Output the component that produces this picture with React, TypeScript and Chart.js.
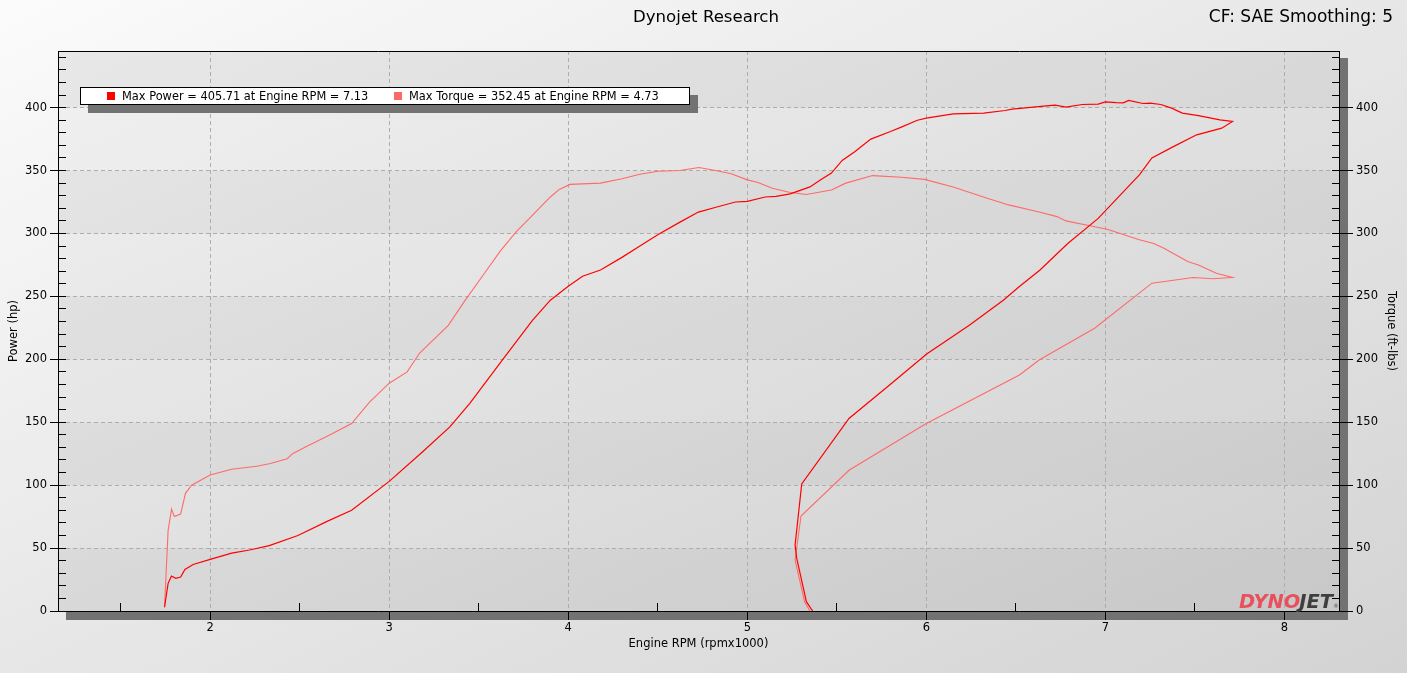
import React, { useEffect, useRef } from 'react';
import { Chart, registerables } from 'chart.js';

Chart.register(...registerables);

// ---------- text ----------
const TITLE = 'Dynojet Research';
const SUBTITLE = 'CF: SAE Smoothing: 5';
const X_TITLE = 'Engine RPM (rpmx1000)';
const Y_TITLE = 'Power (hp)';
const Y2_TITLE = 'Torque (ft-lbs)';
const LEGEND_LABELS = [
  'Max Power = 405.71 at Engine RPM = 7.13',
  'Max Torque = 352.45 at Engine RPM = 4.73',
];
const LOGO_PARTS = ['DYNO', 'JET'];

// ---------- axes ----------
const X_MIN = 1.15;
const X_MAX = 8.305;
const Y_MIN = 0;
const Y_MAX = 445;
const X_TICKS = [2, 3, 4, 5, 6, 7, 8];
const X_MINOR = [1.5, 2.5, 3.5, 4.5, 5.5, 6.5, 7.5];
const Y_TICKS = [0, 50, 100, 150, 200, 250, 300, 350, 400];
const Y_MINOR = [0, 10, 20, 30, 40, 50, 60, 70, 80, 90, 100, 110, 120, 130, 140, 150, 160, 170, 180, 190, 200, 210, 220, 230, 240, 250, 260, 270, 280, 290, 300, 310, 320, 330, 340, 350, 360, 370, 380, 390, 400, 410, 420, 430, 440];

// ---------- data ----------
const POWER_RPM = [1.745, 1.765, 1.784, 1.808, 1.835, 1.859, 1.905, 2.0, 2.12, 2.22, 2.33, 2.49, 2.65, 2.79, 3.0, 3.19, 3.34, 3.45, 3.64, 3.8, 3.9, 4.0, 4.08, 4.18, 4.3, 4.4, 4.5, 4.624, 4.727, 4.83, 4.934, 5.0, 5.1, 5.16, 5.24, 5.35, 5.41, 5.47, 5.53, 5.6, 5.69, 5.8, 5.86, 5.95, 6.0, 6.15, 6.32, 6.44, 6.48, 6.67, 6.72, 6.78, 6.87, 6.96, 7.0, 7.06, 7.1, 7.13, 7.21, 7.25, 7.31, 7.37, 7.43, 7.52, 7.64, 7.71, 7.65, 7.51, 7.38, 7.26, 7.19, 6.96, 6.79, 6.635, 6.52, 6.43, 6.24, 6.0, 5.815, 5.568, 5.304, 5.267, 5.276, 5.33, 5.365];
const POWER_HP = [3, 22, 27.8, 26, 27, 33, 37, 41, 46, 48.5, 52, 60, 71, 80, 103, 127, 146.5, 165, 201, 231, 247, 258, 266, 271, 281, 290, 299, 309, 317, 321, 325, 325.5, 329, 329.5, 331.5, 337, 342.6, 348, 358, 365, 375, 381, 384.5, 390, 391.6, 395, 395.6, 397.7, 398.8, 401.4, 402, 400.4, 402.5, 402.8, 404.6, 404, 403.8, 405.7, 403.3, 403.5, 402.5, 399.6, 395.6, 393.7, 390.3, 389, 383.7, 378.4, 369, 360, 346.6, 312, 292, 271, 257.8, 247, 227, 204, 182, 153, 101, 52.5, 42, 7.4, 0];
const TORQUE_RPM = [1.745, 1.765, 1.784, 1.8, 1.835, 1.862, 1.896, 2.0, 2.12, 2.26, 2.33, 2.43, 2.46, 2.54, 2.67, 2.79, 2.89, 3.0, 3.1, 3.17, 3.33, 3.42, 3.53, 3.62, 3.71, 3.79, 3.9, 3.95, 4.01, 4.18, 4.3, 4.4, 4.5, 4.624, 4.73, 4.83, 4.91, 5.0, 5.06, 5.14, 5.24, 5.33, 5.47, 5.55, 5.7, 5.86, 5.99, 6.15, 6.34, 6.46, 6.63, 6.73, 6.78, 6.92, 7.01, 7.19, 7.27, 7.33, 7.46, 7.52, 7.62, 7.71, 7.6, 7.49, 7.26, 6.94, 6.63, 6.52, 6.0, 5.57, 5.3, 5.267, 5.32, 5.35];
const TORQUE_FTLBS = [3, 64, 81, 75, 77, 93.5, 100, 108, 112.6, 115, 117, 121, 125, 131, 140, 149, 166, 181, 190, 205, 227, 246, 268, 286, 301.5, 313, 329, 335, 339, 340, 343.5, 347, 349.5, 350, 352.4, 349.8, 347.4, 342.6, 340.5, 336, 332.5, 331, 334.6, 340, 346, 344.7, 343, 337, 328, 322.7, 317, 313.4, 310, 306, 303.4, 295, 292, 288, 277.7, 275, 268.4, 265, 264, 265, 260.5, 224.7, 199.5, 187.6, 149, 112, 75.5, 40.5, 7.4, 0];

// ---------- style ----------
const FONT = '"DejaVu Sans", Verdana, sans-serif';
const POWER_COLOR = '#ff0000';
const TORQUE_COLOR = '#ff6a6a';
const GRID_COLOR = '#adadad';
const SHADOW = '#727272';
const W = 1407;
const H = 673;

function diagGradient(ctx: CanvasRenderingContext2D, x: number, y: number, w: number, h: number, c0: string, c1: string) {
  // gradient whose iso-lines run through the other two corners
  const d = w * w + h * h;
  const gx = (2 * w * h * h) / d;
  const gy = (2 * w * h * w) / d;
  const g = ctx.createLinearGradient(x, y, x + gx, y + gy);
  g.addColorStop(0, c0);
  g.addColorStop(1, c1);
  return g;
}

const align = (p: number) => Math.round(p - 0.5) + 0.5;

const dynoPlugin = {
  id: 'dynoDecor',
  beforeDraw(chart: any) {
    const ctx: CanvasRenderingContext2D = chart.ctx;
    const a = chart.chartArea;
    const ys = chart.scales.y;
    ctx.save();
    // page background
    ctx.fillStyle = diagGradient(ctx, 0, 0, W, H, '#fbfbfb', '#d3d3d3');
    ctx.fillRect(0, 0, W, H);
    // shadows
    ctx.fillStyle = SHADOW;
    ctx.fillRect(a.right, a.top + 7, 9, a.bottom - a.top + 2);
    ctx.fillRect(a.left + 8, a.bottom, a.right - a.left + 1, 9);
    // plot background
    ctx.fillStyle = diagGradient(ctx, a.left, a.top, a.right - a.left, a.bottom - a.top, '#f1f1f1', '#d0d0d0');
    ctx.fillRect(a.left, a.top, a.right - a.left, a.bottom - a.top);
    // alternating bands
    ctx.fillStyle = 'rgba(0,0,0,0.035)';
    for (let i = 0; i < Y_TICKS.length; i += 2) {
      const v0 = Y_TICKS[i];
      const v1 = Math.min(v0 + 50, Y_MAX);
      const p0 = ys.getPixelForValue(v0);
      const p1 = ys.getPixelForValue(v1);
      ctx.fillRect(a.left, p1, a.right - a.left, p0 - p1);
    }
    ctx.restore();
  },
  afterDraw(chart: any) {
    const ctx: CanvasRenderingContext2D = chart.ctx;
    const a = chart.chartArea;
    const xs = chart.scales.x;
    const ys = chart.scales.y;
    const y2 = chart.scales.y2;
    ctx.save();
    // top frame line
    ctx.strokeStyle = '#000';
    ctx.lineWidth = 1;
    ctx.beginPath();
    ctx.moveTo(a.left, align(a.top));
    ctx.lineTo(a.right + 1, align(a.top));
    ctx.stroke();
    // inner minor ticks
    ctx.beginPath();
    for (const v of X_MINOR) {
      const px = align(xs.getPixelForValue(v));
      ctx.moveTo(px, a.bottom);
      ctx.lineTo(px, a.bottom - 8);
    }
    for (const v of Y_MINOR) {
      const py = align(ys.getPixelForValue(v));
      if (py < a.top + 2) continue;
      ctx.moveTo(a.left, py);
      ctx.lineTo(a.left + 8, py);
      const qy = align(y2.getPixelForValue(v));
      ctx.moveTo(a.right - 7, qy);
      ctx.lineTo(a.right, qy);
    }
    ctx.stroke();

    // legend box
    ctx.fillStyle = SHADOW;
    ctx.fillRect(88, 95, 610, 18);
    ctx.fillStyle = '#ffffff';
    ctx.fillRect(80.5, 87.5, 609, 17);
    ctx.strokeStyle = '#000';
    ctx.strokeRect(80.5, 87.5, 609, 17);
    ctx.fillStyle = POWER_COLOR;
    ctx.fillRect(107, 92, 8, 8);
    ctx.fillStyle = '#ff6666';
    ctx.fillRect(394, 92, 8, 8);
    ctx.fillStyle = '#000';
    ctx.font = `11.4px ${FONT}`;
    ctx.textBaseline = 'alphabetic';
    ctx.textAlign = 'left';
    ctx.fillText(LEGEND_LABELS[0], 122, 100);
    ctx.fillText(LEGEND_LABELS[1], 409, 100);

    // titles
    ctx.font = `16.6px ${FONT}`;
    ctx.textAlign = 'center';
    ctx.fillText(TITLE, 706, 22);
    ctx.font = `17px ${FONT}`;
    ctx.textAlign = 'right';
    ctx.fillText(SUBTITLE, 1393, 22);

    // logo
    ctx.font = `italic bold 19px ${FONT}`;
    ctx.textAlign = 'left';
    const w0 = ctx.measureText(LOGO_PARTS[0]).width;
    const w1 = ctx.measureText(LOGO_PARTS[1]).width;
    const sx = 95 / (w0 + w1);
    ctx.translate(1239, 608);
    ctx.scale(sx, 1);
    ctx.fillStyle = '#e8505c';
    ctx.fillText(LOGO_PARTS[0], 0, 0);
    ctx.fillStyle = '#3e3e3e';
    ctx.fillText(LOGO_PARTS[1], w0 - 1, 0);
    ctx.restore();
    ctx.save();
    ctx.fillStyle = '#555';
    ctx.font = `6px ${FONT}`;
    ctx.fillText('®', 1333, 608);
    ctx.restore();
  },
};

export default function App() {
  const ref = useRef<HTMLCanvasElement | null>(null);

  useEffect(() => {
    const canvas = ref.current;
    if (!canvas) return;
    Chart.defaults.font.family = FONT;
    Chart.defaults.color = '#000';

    const tickFont = { family: FONT, size: 11.5 };
    const chart = new Chart(canvas, {
      type: 'scatter',
      data: {
        datasets: [
          {
            label: 'Power (hp)',
            data: POWER_RPM.map((x, i) => ({ x, y: POWER_HP[i] })),
            showLine: true,
            borderColor: POWER_COLOR,
            backgroundColor: POWER_COLOR,
            borderWidth: 1.2,
            pointRadius: 0,
            tension: 0,
            yAxisID: 'y',
          },
          {
            label: 'Torque (ft-lbs)',
            data: TORQUE_RPM.map((x, i) => ({ x, y: TORQUE_FTLBS[i] })),
            showLine: true,
            borderColor: TORQUE_COLOR,
            backgroundColor: TORQUE_COLOR,
            borderWidth: 1.1,
            pointRadius: 0,
            tension: 0,
            yAxisID: 'y2',
          },
        ],
      },
      options: {
        animation: false,
        responsive: false,
        devicePixelRatio: 1,
        layout: { padding: { top: 51, left: 0, right: 0, bottom: 0 } },
        plugins: {
          legend: { display: false },
          tooltip: { enabled: false },
        },
        events: [],
        scales: {
          x: {
            type: 'linear',
            position: 'bottom',
            min: X_MIN,
            max: X_MAX,
            afterBuildTicks: (s: any) => {
              s.ticks = X_TICKS.map((value) => ({ value }));
            },
            afterFit: (s: any) => {
              s.height = 62;
            },
            ticks: { font: tickFont, color: '#000', padding: 1, maxRotation: 0, autoSkip: false, callback: (v: any) => String(v) },
            grid: { color: GRID_COLOR, lineWidth: 1, tickColor: '#000', tickLength: 9, tickWidth: 1, tickBorderDash: [] },
            border: { display: true, color: '#000', width: 1, dash: [4, 3] },
            title: { display: true, text: X_TITLE, font: tickFont, color: '#000', padding: { top: 0, bottom: 22 } },
          },
          y: {
            type: 'linear',
            position: 'left',
            min: Y_MIN,
            max: Y_MAX,
            afterBuildTicks: (s: any) => {
              s.ticks = Y_TICKS.map((value) => ({ value }));
            },
            afterFit: (s: any) => {
              s.width = 58;
            },
            ticks: { font: tickFont, color: '#000', padding: 3, autoSkip: false, callback: (v: any) => String(v) },
            grid: { color: GRID_COLOR, lineWidth: 1, tickColor: '#000', tickLength: 8, tickWidth: 1, tickBorderDash: [] },
            border: { display: true, color: '#000', width: 1, dash: [4, 3] },
            title: { display: true, text: Y_TITLE, font: tickFont, color: '#000', padding: { top: 7, bottom: 0 } },
          },
          y2: {
            type: 'linear',
            position: 'right',
            min: Y_MIN,
            max: Y_MAX,
            afterBuildTicks: (s: any) => {
              s.ticks = Y_TICKS.map((value) => ({ value }));
            },
            afterFit: (s: any) => {
              s.width = 68;
            },
            ticks: { font: tickFont, color: '#000', padding: 3, autoSkip: false, callback: (v: any) => String(v) },
            grid: { drawOnChartArea: false, tickColor: '#000', tickLength: 14, tickWidth: 1, tickBorderDash: [] },
            border: { display: true, color: '#000', width: 1 },
            title: { display: true, text: Y2_TITLE, font: tickFont, color: '#000', padding: { top: 9, bottom: 0 } },
          },
        },
      } as any,
      plugins: [dynoPlugin],
    });
    return () => {
      chart.destroy();
    };
  }, []);

  return (
    <div style={{ position: 'fixed', left: 0, top: 0, width: W, height: H }}>
      <canvas ref={ref} width={W} height={H} style={{ display: 'block', width: W, height: H }} />
    </div>
  );
}
